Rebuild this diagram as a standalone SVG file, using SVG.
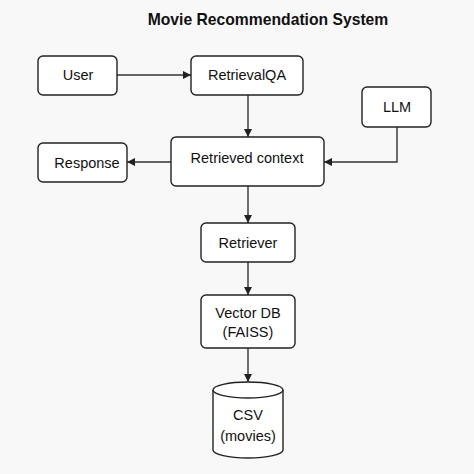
<svg xmlns="http://www.w3.org/2000/svg" width="474" height="474" viewBox="0 0 474 474">
<style>
.box{fill:#ffffff;stroke:#222;stroke-width:1.4}
.t{font-family:"Liberation Sans",Arial,sans-serif;font-size:14.5px;fill:#111;text-anchor:middle}
.c{fill:none;stroke:#333;stroke-width:1.4}
</style>
<defs>
<marker id="ah" viewBox="0 0 10 10" refX="10" refY="5" markerWidth="8" markerHeight="8" markerUnits="userSpaceOnUse" orient="auto">
<path d="M0,0 L10,5 L0,10 z" fill="#222"/>
</marker>
</defs>
<rect width="474" height="474" fill="#f8f8f9"/>
<text x="268" y="25" class="t" style="font-weight:bold;font-size:15.7px">Movie Recommendation System</text>
<g id="connectors">
<path class="c" d="M117,75 H191" marker-end="url(#ah)"/>
<path class="c" d="M248,95 V137" marker-end="url(#ah)"/>
<path class="c" d="M171,162 H127" marker-end="url(#ah)"/>
<path class="c" d="M397,127 V162 H324" marker-end="url(#ah)"/>
<path class="c" d="M248,186 V223" marker-end="url(#ah)"/>
<path class="c" d="M248,262 V295" marker-end="url(#ah)"/>
<path class="c" d="M248,348 V382" marker-end="url(#ah)"/>
</g>
<g id="user"><rect class="box" x="38" y="56" width="79" height="39" rx="5"/><text class="t" x="78" y="80">User</text></g>
<g id="retrievalqa"><rect class="box" x="191" y="56" width="112" height="39" rx="5"/><text class="t" x="247" y="80">RetrievalQA</text></g>
<g id="llm"><rect class="box" x="362" y="87" width="69" height="40" rx="5"/><text class="t" x="397" y="112">LLM</text></g>
<g id="context"><rect class="box" x="171" y="137" width="153" height="49" rx="5"/><text class="t" x="247" y="163">Retrieved context</text></g>
<g id="response"><rect class="box" x="38" y="143" width="89" height="39" rx="5"/><text class="t" x="87" y="168">Response</text></g>
<g id="retriever"><rect class="box" x="201" y="223" width="94" height="39" rx="5"/><text class="t" x="248" y="248">Retriever</text></g>
<g id="vectordb"><rect class="box" x="201" y="295" width="94" height="53" rx="5"/><text class="t" x="248" y="318">Vector DB</text><text class="t" x="248" y="337">(FAISS)</text></g>
<g id="csv">
<path class="box" d="M213,390 V450 A35,8 0 0 0 283,450 V390"/>
<ellipse class="box" cx="248" cy="390" rx="35" ry="8"/>
<text class="t" x="248" y="420">CSV</text><text class="t" x="248" y="441">(movies)</text>
</g>
</svg>
